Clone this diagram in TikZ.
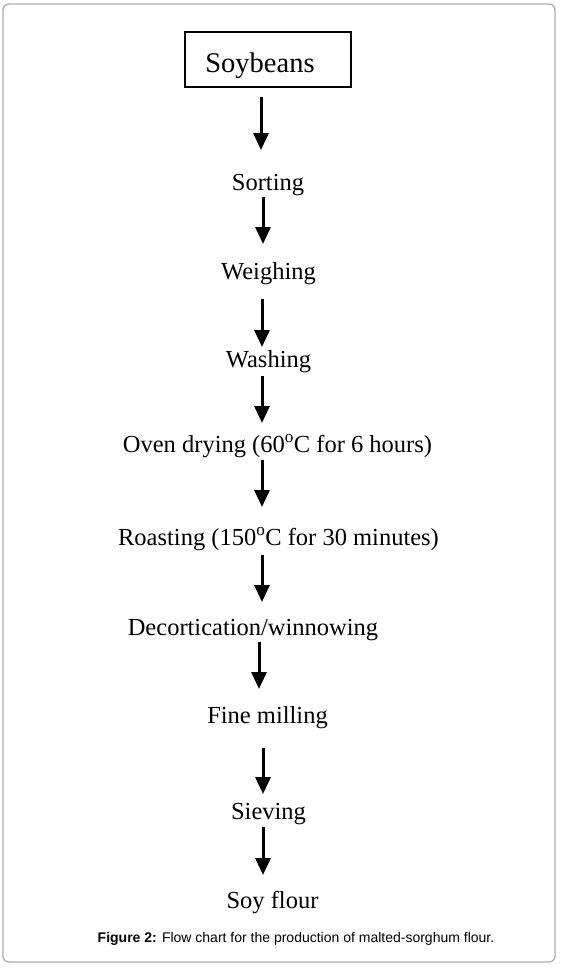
\documentclass[tikz,border=0pt]{standalone}
\usepackage{fontspec}
\setmainfont{Liberation Serif}
\newfontfamily\capfont{Liberation Sans}
\usetikzlibrary{arrows.meta}
\begin{document}
\begin{tikzpicture}[x=1pt,y=-1pt,
  stage/.style={anchor=base,inner sep=0pt,font=\fontsize{24.5}{28}\selectfont},
  flowarrow/.style={line width=3pt,-{Triangle[width=15pt,length=17pt]}},
  startbox/.style={draw,line width=2.3pt,minimum width=166pt,minimum height=55pt,inner sep=0pt},
  frame/.style={draw=black!32,line width=1.3pt,rounded corners=6pt}]
\useasboundingbox (0,0) rectangle (564,969);
\draw[frame] (3,4) rectangle (555,962);
\node[startbox] (soyb) at (268,59.5) {};
\node[anchor=base,inner sep=0pt,font=\fontsize{28.5}{32}\selectfont] (soyt) at (260,72) {Soybeans};
\node[stage] (sort) at (268,190) {Sorting};
\node[stage] (weigh) at (268.5,279) {Weighing};
\node[stage] (wash) at (268.5,367) {Washing};
\node[stage] (oven) at (277.5,452) {Oven drying (60\textsuperscript{o}C for 6 hours)};
\node[stage] (roast) at (278.5,545) {Roasting (150\textsuperscript{o}C for 30 minutes)};
\node[stage] (decor) at (253,635) {Decortication/winnowing};
\node[stage] (mill) at (267.5,723) {Fine milling};
\node[stage] (siev) at (268.5,819) {Sieving};
\node[stage] (flour) at (272.5,908) {Soy flour};
\node[anchor=base,inner sep=0pt,font=\capfont\fontsize{14}{16}\selectfont] (cap) at (296,942) {\textbf{Figure 2:} Flow chart for the production of malted-sorghum flour.};
\coordinate (a1s) at (261,97);  \coordinate (a1e) at (261,150);
\coordinate (a2s) at (263,197); \coordinate (a2e) at (263,244);
\coordinate (a3s) at (262,299); \coordinate (a3e) at (262,347);
\coordinate (a4s) at (262,376); \coordinate (a4e) at (262,423);
\coordinate (a5s) at (262,460); \coordinate (a5e) at (262,507);
\coordinate (a6s) at (262,555); \coordinate (a6e) at (262,602);
\coordinate (a7s) at (259,642); \coordinate (a7e) at (259,689);
\coordinate (a8s) at (263,748); \coordinate (a8e) at (263,794);
\coordinate (a9s) at (263,827); \coordinate (a9e) at (263,875);
\foreach \i in {1,...,9} {\draw[flowarrow] (a\i s) -- (a\i e);}
\end{tikzpicture}
\end{document}
